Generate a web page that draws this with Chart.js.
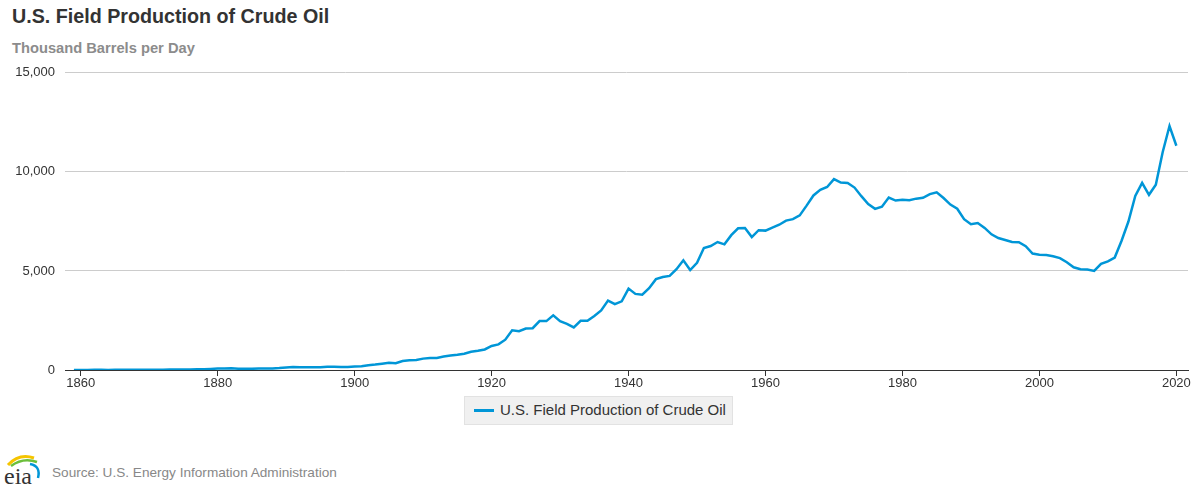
<!DOCTYPE html>
<html>
<head>
<meta charset="utf-8">
<script src="https://cdn.jsdelivr.net/npm/chart.js@4/dist/chart.umd.min.js"></script>
<style>
  html, body { margin: 0; padding: 0; background: #fff; }
  body { width: 1200px; height: 488px; position: relative; overflow: hidden; font-family: "Liberation Sans", Arial, sans-serif; }
  #title { position: absolute; left: 12px; top: 5px; font-size: 19.7px; font-weight: bold; color: #333; white-space: nowrap; }
  #subtitle { position: absolute; left: 12px; top: 40px; font-size: 14.7px; font-weight: bold; color: #8c8c8c; white-space: nowrap; }
  #chartWrap { position: absolute; left: 0; top: 55px; width: 1200px; height: 345px; }
  #legend { position: absolute; left: 464px; top: 396px; width: 267px; height: 27px; background: #f0f0f0; border: 1px solid #e2e2e2; box-sizing: content-box; }
  #legend .sw { position: absolute; left: 9px; top: 12px; width: 20px; height: 3px; background: #0096d7; }
  #legend .lt { position: absolute; left: 35px; top: 4px; font-size: 15px; color: #333; white-space: nowrap; }
  #footer { position: absolute; left: 52px; top: 465px; font-size: 13.6px; color: #888; white-space: nowrap; }
  #logo { position: absolute; left: 3px; top: 451px; }
</style>
</head>
<body>
<div id="title">U.S. Field Production of Crude Oil</div>
<div id="subtitle">Thousand Barrels per Day</div>
<div id="chartWrap"><canvas id="c"></canvas></div>
<div id="legend"><div class="sw"></div><div class="lt">U.S. Field Production of Crude Oil</div></div>
<svg id="logo" width="42" height="36" viewBox="0 0 42 36">
  <path d="M5 14 Q16 2 31 7" stroke="#f5c400" stroke-width="3" fill="none"/>
  <path d="M8 15 Q20 6 34 11" stroke="#6cbf3b" stroke-width="2.5" fill="none"/>
  <path d="M27 13 Q38 15 35 27" stroke="#0096d7" stroke-width="2.5" fill="none"/>
  <text x="1" y="33" font-family="Liberation Serif, DejaVu Serif, serif" font-size="24" fill="#333">eia</text>
</svg>
<div id="footer">Source: U.S. Energy Information Administration</div>
<script>
const seriesName = "U.S. Field Production of Crude Oil";
const years = [
  1859,
  1860,1861,1862,1863,1864,1865,1866,1867,1868,1869,
  1870,1871,1872,1873,1874,1875,1876,1877,1878,1879,
  1880,1881,1882,1883,1884,1885,1886,1887,1888,1889,
  1890,1891,1892,1893,1894,1895,1896,1897,1898,1899,
  1900,1901,1902,1903,1904,1905,1906,1907,1908,1909,
  1910,1911,1912,1913,1914,1915,1916,1917,1918,1919,
  1920,1921,1922,1923,1924,1925,1926,1927,1928,1929,
  1930,1931,1932,1933,1934,1935,1936,1937,1938,1939,
  1940,1941,1942,1943,1944,1945,1946,1947,1948,1949,
  1950,1951,1952,1953,1954,1955,1956,1957,1958,1959,
  1960,1961,1962,1963,1964,1965,1966,1967,1968,1969,
  1970,1971,1972,1973,1974,1975,1976,1977,1978,1979,
  1980,1981,1982,1983,1984,1985,1986,1987,1988,1989,
  1990,1991,1992,1993,1994,1995,1996,1997,1998,1999,
  2000,2001,2002,2003,2004,2005,2006,2007,2008,2009,
  2010,2011,2012,2013,2014,2015,2016,2017,2018,2019,2020
];
const production = [
  0,
  1,6,8,7,6,7,10,9,10,11,
  14,14,17,27,30,24,25,37,42,55,
  72,76,82,64,66,60,77,77,76,96,
  125,150,138,133,135,145,166,166,151,156,
  174,190,243,275,320,368,345,455,490,502,
  574,604,610,680,729,770,822,919,974,1037,
  1214,1293,1531,2007,1957,2092,2108,2469,2468,2760,
  2460,2332,2150,2481,2488,2730,3009,3505,3327,3466,
  4107,3842,3799,4125,4584,4695,4751,5088,5535,5046,
  5407,6158,6256,6458,6342,6807,7151,7170,6710,7054,
  7035,7183,7332,7542,7614,7804,8295,8810,9096,9238,
  9637,9463,9441,9208,8774,8375,8132,8245,8707,8552,
  8597,8572,8649,8688,8879,8971,8680,8349,8140,7613,
  7355,7417,7171,6847,6662,6560,6465,6452,6252,5881,
  5822,5801,5744,5649,5441,5184,5086,5077,5000,5353,
  5482,5674,6523,7494,8789,9446,8842,9352,10991,12315,11318
];
const xTickYears = [1860, 1880, 1900, 1920, 1940, 1960, 1980, 2000, 2020];
const yTickValues = [0, 5000, 10000, 15000];

const points = years.map((yr, i) => ({ x: yr, y: production[i] }));

new Chart(document.getElementById('c'), {
  type: 'line',
  data: {
    datasets: [{
      label: seriesName,
      data: points,
      borderColor: '#0096d7',
      backgroundColor: '#0096d7',
      borderWidth: 2.5,
      pointRadius: 0,
      tension: 0,
      fill: false
    }]
  },
  options: {
    responsive: true,
    maintainAspectRatio: false,
    animation: false,
    layout: { padding: { top: 15, right: 12, left: 0, bottom: 0 } },
    plugins: {
      legend: { display: false },
      tooltip: { enabled: false },
      title: { display: false }
    },
    scales: {
      x: {
        type: 'linear',
        min: 1857.7,
        max: 2021.7,
        afterBuildTicks: (s) => { s.ticks = xTickYears.map(v => ({ value: v })); },
        afterFit: (s) => { s.height = 30; },
        grid: { drawOnChartArea: false, drawTicks: true, tickLength: 6, color: '#333' },
        border: { display: true, color: '#333', width: 1 },
        ticks: {
          padding: 0,
          color: '#333',
          font: { family: '"Liberation Sans", Arial, sans-serif', size: 13 },
          maxRotation: 0,
          autoSkip: false,
          callback: (v) => String(v)
        }
      },
      y: {
        min: 0,
        max: 15000,
        afterBuildTicks: (s) => { s.ticks = yTickValues.map(v => ({ value: v })); },
        afterFit: (s) => { s.width = 65; },
        grid: { drawTicks: false, color: '#cccccc', lineWidth: 1 },
        border: { display: false },
        ticks: {
          padding: 10,
          color: '#333',
          font: { family: '"Liberation Sans", Arial, sans-serif', size: 13 },
          callback: (v) => v.toLocaleString('en-US')
        }
      }
    }
  }
});
</script>
</body>
</html>
